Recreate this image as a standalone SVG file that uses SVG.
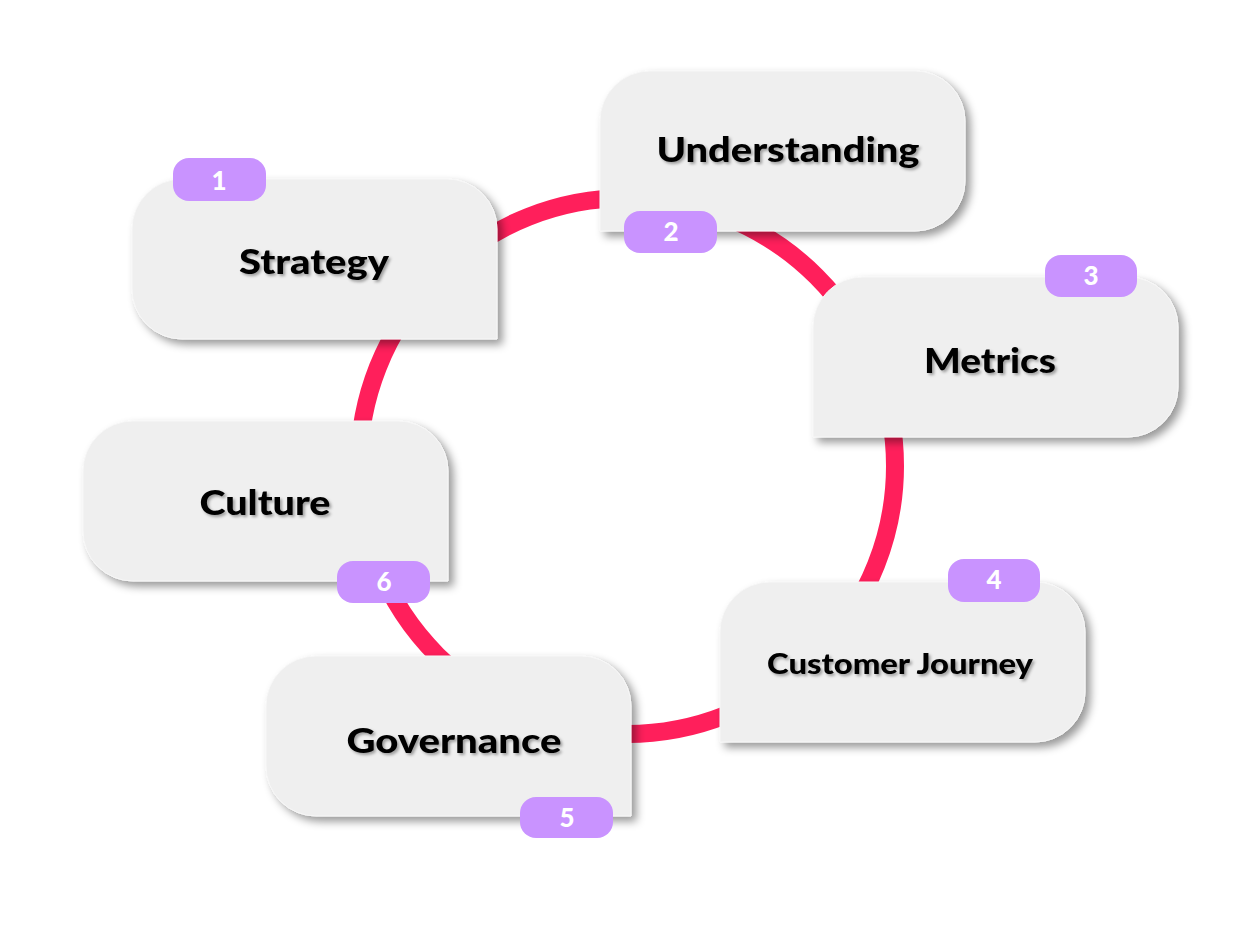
<svg xmlns="http://www.w3.org/2000/svg" width="1248" height="933" viewBox="0 0 1248 933">
<defs>
<filter id="cardShadow" x="-10%" y="-10%" width="125%" height="130%">
<feDropShadow dx="5" dy="5" stdDeviation="4" flood-color="#000" flood-opacity="0.4"/>
</filter>
<filter id="textShadow" x="-5%" y="-20%" width="115%" height="150%">
<feDropShadow dx="2" dy="2" stdDeviation="1.5" flood-color="#000" flood-opacity="0.35"/>
</filter>
</defs>
<style>
.card{fill:#EFEFEF;stroke:#F7F7F7;stroke-width:1;filter:url(#cardShadow);}
.label{font-family:"Lato","Liberation Sans",sans-serif;font-weight:900;font-size:35px;fill:#000;text-anchor:middle;filter:url(#textShadow);}
.badge{fill:#C993FF;}
.num{font-family:"Lato","Liberation Sans",sans-serif;font-weight:900;font-size:26px;fill:#fff;text-anchor:middle;}
.ring{fill:none;stroke:#FF1F5B;stroke-width:18;}
</style>
<rect width="1248" height="933" fill="#fff"/>
<g id="connectors">
<circle class="ring" cx="627" cy="466" r="268"/>
</g>
<g id="node-strategy">
<path class="card" d="M 182 179 H 447 A 50 50 0 0 1 497 229 V 339 H 182 A 50 50 0 0 1 132 289 V 229 A 50 50 0 0 1 182 179 Z"/>
<text class="label" x="314" y="274" textLength="150" lengthAdjust="spacingAndGlyphs">Strategy</text>
<rect class="badge" x="173" y="158" width="93" height="43" rx="16"/>
<text class="num" x="219" y="190">1</text>
</g>
<g id="node-understanding">
<path class="card" d="M 650 71 H 915 A 50 50 0 0 1 965 121 V 181 A 50 50 0 0 1 915 231 H 600 V 121 A 50 50 0 0 1 650 71 Z"/>
<text class="label" x="788" y="162" textLength="263" lengthAdjust="spacingAndGlyphs">Understanding</text>
<rect class="badge" x="624" y="211" width="93" height="42" rx="16"/>
<text class="num" x="671" y="241">2</text>
</g>
<g id="node-metrics">
<path class="card" d="M 863 277 H 1128 A 50 50 0 0 1 1178 327 V 387 A 50 50 0 0 1 1128 437 H 813 V 327 A 50 50 0 0 1 863 277 Z"/>
<text class="label" x="990" y="373" textLength="132" lengthAdjust="spacingAndGlyphs">Metrics</text>
<rect class="badge" x="1045" y="255" width="92" height="42" rx="16"/>
<text class="num" x="1091" y="285">3</text>
</g>
<g id="node-customer-journey">
<path class="card" d="M 770 582 H 1035 A 50 50 0 0 1 1085 632 V 692 A 50 50 0 0 1 1035 742 H 720 V 632 A 50 50 0 0 1 770 582 Z"/>
<text class="label" x="900" y="674" style="font-size:29px" textLength="266" lengthAdjust="spacingAndGlyphs">Customer Journey</text>
<rect class="badge" x="948" y="559" width="92" height="43" rx="16"/>
<text class="num" x="994" y="589">4</text>
</g>
<g id="node-governance">
<path class="card" d="M 316 656 H 581 A 50 50 0 0 1 631 706 V 816 H 316 A 50 50 0 0 1 266 766 V 706 A 50 50 0 0 1 316 656 Z"/>
<text class="label" x="454" y="753" textLength="215" lengthAdjust="spacingAndGlyphs">Governance</text>
<rect class="badge" x="520" y="797" width="93" height="41" rx="16"/>
<text class="num" x="567" y="827">5</text>
</g>
<g id="node-culture">
<path class="card" d="M 133 421 H 398 A 50 50 0 0 1 448 471 V 581 H 133 A 50 50 0 0 1 83 531 V 471 A 50 50 0 0 1 133 421 Z"/>
<text class="label" x="265" y="515" textLength="131" lengthAdjust="spacingAndGlyphs">Culture</text>
<rect class="badge" x="337" y="561" width="93" height="42" rx="16"/>
<text class="num" x="384" y="591">6</text>
</g>
</svg>
